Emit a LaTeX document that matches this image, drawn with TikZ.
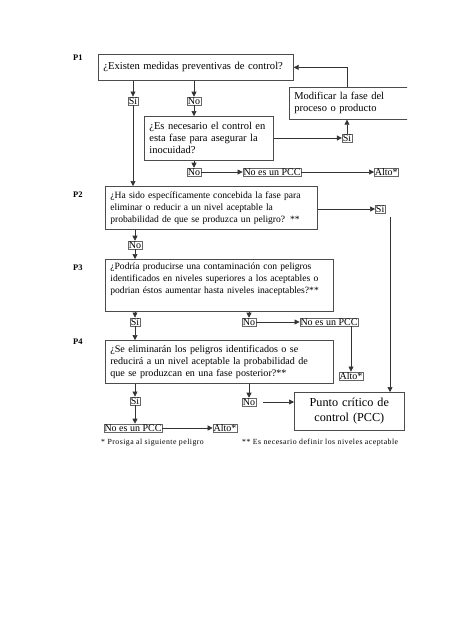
\documentclass[tikz,border=0pt]{standalone}
\usepackage{fontspec}
\setmainfont{Liberation Serif}
\usetikzlibrary{arrows.meta}
\newcommand\fsmain{\fontsize{10.5}{12}\selectfont}
\newcommand\fslab{\fontsize{10}{10}\selectfont}
\newcommand\fsbig{\fontsize{12.2}{15}\selectfont}
\newcommand\fsfoot{\fontsize{7.8}{9}\selectfont\addfontfeature{LetterSpace=6}}
\begin{document}
\begin{tikzpicture}[x=1pt,y=-1pt,
  box/.style={draw=black!70, line width=0.7pt, inner xsep=5pt, inner ysep=2pt, align=left, font=\fsmain, anchor=north west},
  lab/.style={draw=black!60, line width=0.5pt, inner sep=0.7pt, font=\fslab, fill=white},
  arr/.style={-{Triangle[length=5pt,width=5pt]}, line width=0.65pt, draw=black!80},
  plab/.style={font=\fontsize{8.5}{10}\selectfont\bfseries, anchor=west, inner sep=0pt},
  foot/.style={font=\fsfoot, anchor=west, inner sep=0pt}]
\useasboundingbox (0,0) rectangle (474,632);
% P labels
\node[plab] (P1) at (73,58) {P1};
\node[plab] (P2) at (73,195) {P2};
\node[plab] (P3) at (73,268) {P3};
\node[plab] (P4) at (73,342) {P4};
% main boxes
\node[box, minimum width=195pt, minimum height=26pt, text width=185pt, font=\fontsize{10.6}{12}\selectfont] (b1) at (98,54) {¿Existen medidas preventivas de control?};
\begin{scope}
\clip (0,0) rectangle (407,632);
\node[box, minimum width=130pt, minimum height=32pt, text width=120pt] (mod) at (289,87) {Modificar la fase del\\proceso o producto};
\end{scope}
\node[box, minimum width=129pt, minimum height=44pt, text width=119pt] (b2) at (144,116) {¿Es necesario el control en\\esta fase para asegurar la\\inocuidad?};
\node[box, minimum width=212pt, minimum height=43pt, text width=202pt, font=\fontsize{9.6}{12}\selectfont] (p2) at (105,186) {¿Ha sido específicamente concebida la fase para\\eliminar o reducir a un nivel aceptable la\\probabilidad de que se produzca un peligro? **};
\node[box, minimum width=228pt, minimum height=52pt, text width=218pt, font=\fontsize{9.6}{12}\selectfont] (p3) at (105,259) {\parbox[c][46pt][t]{218pt}{¿Podría producirse una contaminación con peligros\\identificados en niveles superiores a los aceptables o\\podrian éstos aumentar hasta niveles inaceptables?**}};
\node[box, minimum width=228pt, minimum height=43pt, text width=218pt, font=\fontsize{10.1}{12}\selectfont] (p4) at (105,340) {¿Se eliminarán los peligros identificados o se\\reducirá a un nivel aceptable la probabilidad de\\que se produzcan en una fase posterior?**};
\node[box, anchor=north west, minimum width=110pt, minimum height=38pt, text width=100pt, align=center, font=\fsbig] (pcc) at (294,392) {Punto crítico de\\control (PCC)};
% small labels
\node[lab] (s1) at (133,101) {Sí};
\node[lab] (n1) at (194,101) {No};
\node[lab] (s2) at (347,138) {Sí};
\node[lab] (n2) at (194,172) {No};
\node[lab] (npcc1) at (272,172) {No es un PCC};
\node[lab, anchor=west] (alto1) at (374,172) {Alto*};
\node[lab, anchor=west] (s3) at (375,209) {Sí};
\node[lab] (n3) at (135,245) {No};
\node[lab] (s4) at (135,322) {Sí};
\node[lab] (n4) at (249,322) {No};
\node[lab] (npcc2) at (329,322) {No es un PCC};
\node[lab] (alto2) at (351,376) {Alto*};
\node[lab] (s5) at (135,401) {Sí};
\node[lab] (n5) at (249,402) {No};
\node[lab] (npcc3) at (133,428) {No es un PCC};
\node[lab] (alto3) at (225,428) {Alto*};
\coordinate (c3) at (390,217);
% footnotes
\node[foot] (f1) at (101,443) {* Prosiga al siguiente peligro};
\node[foot] (f2) at (242,443) {** Es necesario definir los niveles aceptable};
% connectors
\draw[arr] (s1 |- b1.south) -- (s1.north);
\draw[arr] (s1.south) -- (s1 |- p2.north);
\draw[arr] (n1 |- b1.south) -- (n1.north);
\draw[arr] (n1.south) -- (n1 |- b2.north);
\draw[arr] (b2.east |- s2) -- (s2.west);
\draw[arr] (s2.north) -- (s2 |- mod.south);
\draw[arr] (s2 |- mod.north) |- (b1.east);
\draw[arr] (n2 |- b2.south) -- (n2.north);
\draw[arr] (n2.east) -- (npcc1.west);
\draw[arr] (npcc1.east) -- (alto1.west);
\draw[arr] (p2.east |- s3) -- (s3.west);
\draw[arr] (c3) -- (c3 |- pcc.north);
\draw[arr] (n3 |- p2.south) -- (n3.north);
\draw[arr] (n3.south) -- (n3 |- p3.north);
\draw[arr] (s4 |- p3.south) -- (s4.north);
\draw[arr] (s4.south) -- (s4 |- p4.north);
\draw[arr] (n4 |- p3.south) -- (n4.north);
\draw[arr] (n4.east) -- (npcc2.west);
\draw[arr] (alto2 |- npcc2.south) -- (alto2.north);
\draw[arr] (s5 |- p4.south) -- (s5.north);
\draw[arr] (s5.south) -- (s5 |- npcc3.north);
\draw[arr] (npcc3.east) -- (alto3.west);
\draw[arr] (n5 |- p4.south) -- (n5.north);
\draw[arr] ([xshift=7pt]n5.east) -- (pcc.west |- n5);
\end{tikzpicture}
\end{document}
